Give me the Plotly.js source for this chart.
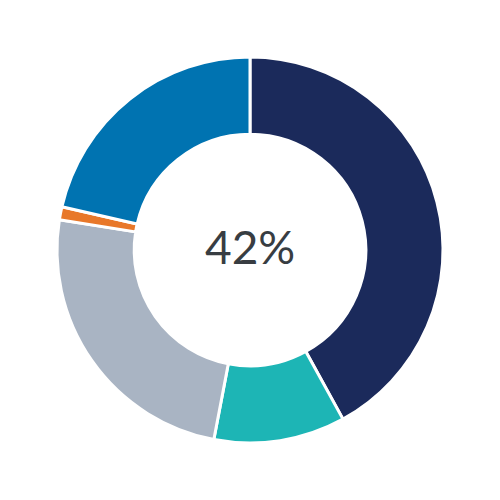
<!DOCTYPE html>
<html>
<head>
<meta charset="utf-8">
<script src="https://cdn.plot.ly/plotly-3.0.1.min.js"></script>
<style>html,body{margin:0;padding:0;background:#fff;}#chart{width:500px;height:500px;}</style>
</head>
<body>
<div id="chart"></div>
<script>
const categories = ["A", "B", "C", "D", "E"];
const values = [42, 11, 24.5, 1.1, 21.4];
const colors = ["#1b2a5b", "#1db5b5", "#a9b4c3", "#e8782a", "#0073b1"];
const centerLabel = "42%";

Plotly.newPlot("chart", [{
  type: "pie",
  labels: categories,
  values: values,
  hole: 0.6,
  sort: false,
  direction: "clockwise",
  rotation: 0,
  textinfo: "none",
  hoverinfo: "none",
  marker: {colors: colors, line: {color: "#ffffff", width: 3}}
}], {
  width: 500, height: 500,
  margin: {l: 57, r: 57, t: 57, b: 57},
  showlegend: false,
  paper_bgcolor: "#ffffff",
  annotations: [{
    text: centerLabel, showarrow: false, x: 0.5, y: 0.51, xref: "paper", yref: "paper",
    font: {family: "Lato, sans-serif", size: 46, color: "#383d42"}
  }]
}, {displayModeBar: false, staticPlot: true});
</script>
</body>
</html>
